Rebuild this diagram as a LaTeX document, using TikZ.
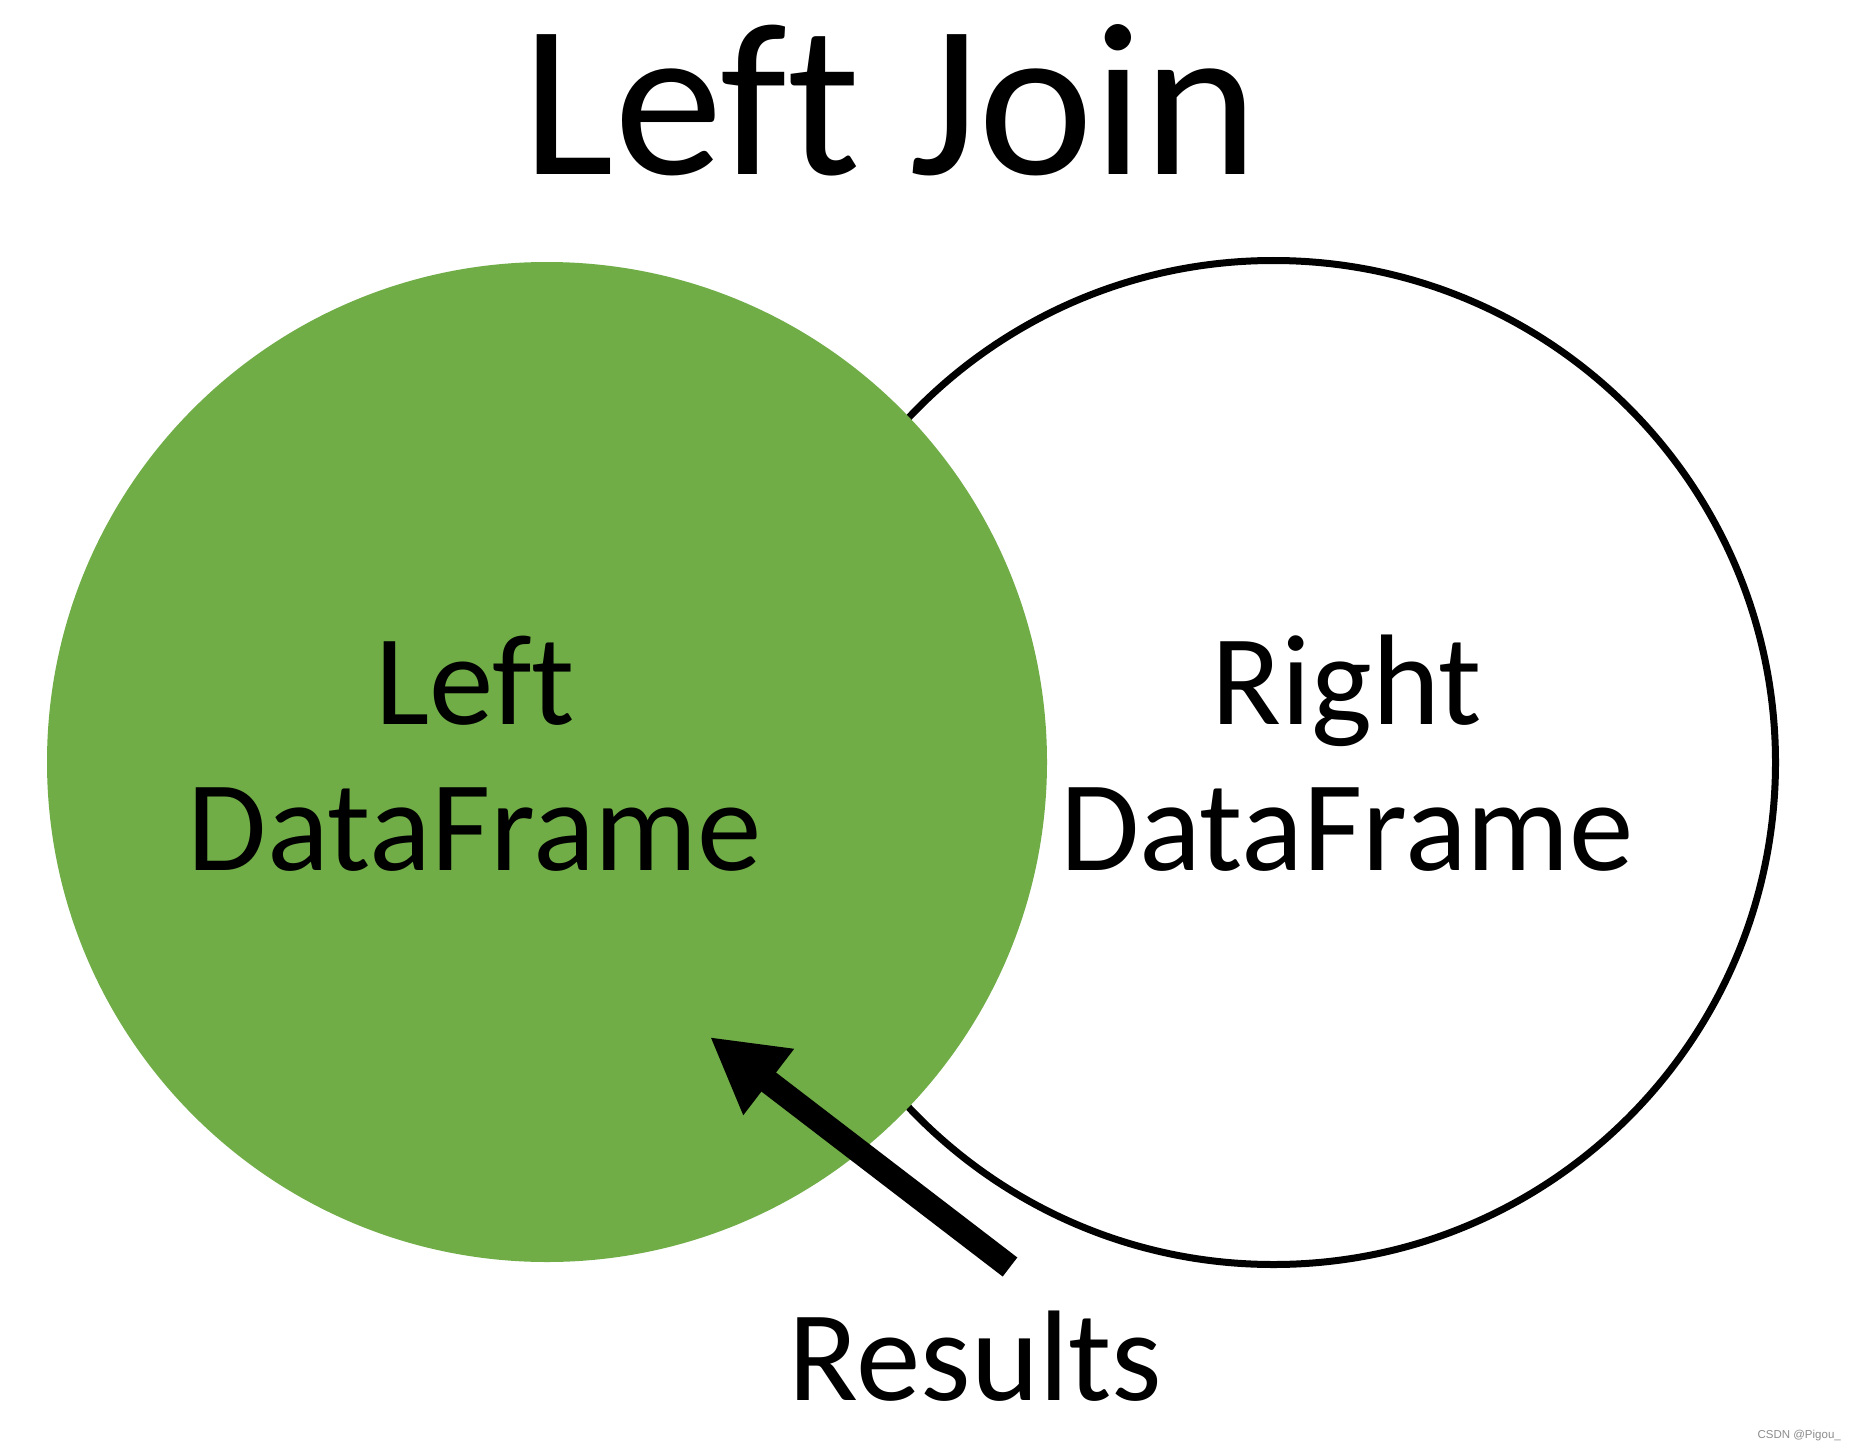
\documentclass[tikz,border=0pt]{standalone}
\usepackage{fontspec}
\setmainfont{Carlito}[Ligatures=CommonOff]
\newfontfamily\wmfont{Liberation Sans}
\usetikzlibrary{arrows.meta}
\definecolor{officegreen}{HTML}{70AD47}
\definecolor{wmgray}{HTML}{8C8C8C}
\tikzset{
  setcircle/.style={circle, inner sep=0pt, outer sep=0pt},
  bigtitle/.style={font=\fontsize{218}{240}\selectfont, inner sep=0pt, anchor=base},
  lbl/.style={font=\fontsize{129}{146}\selectfont, inner sep=0pt, align=center, anchor=base},
  resultarrow/.style={line width=24pt, -{Triangle[length=74pt, width=78pt]}}
}
\begin{document}
\begin{tikzpicture}[x=1pt, y=-1pt]
\useasboundingbox (0,0) rectangle (1856,1450);
\fill[white] (0,0) rectangle (1856,1450);
% circles
\node[setcircle, draw=black, line width=7pt, minimum size=1004pt] (rightset) at (1273.5,762.5) {};
\node[setcircle, fill=officegreen, minimum size=1000pt] (leftset) at (547,762) {};
% title
\node[bigtitle] (title) at (890.5,175) {Left Join};
% labels (base anchor = baseline of the last line)
\node[lbl] (leftlbl) at (475,870) {Left\\DataFrame};
\node[lbl] (rightlbl) at (1347,870) {Right\\DataFrame};
\node[lbl] (results) at (975.5,1400) {Results};
% arrow
\coordinate (arrowtail) at (1010,1267);
\coordinate (arrowtip) at (710,1037);
\draw[resultarrow] (arrowtail) -- (arrowtip);
% watermark
\node[font=\wmfont\fontsize{11.5}{13}\selectfont, text=wmgray, inner sep=0pt, anchor=base east] (wm) at (1841,1438) {CSDN @Pigou\_};
\end{tikzpicture}
\end{document}
